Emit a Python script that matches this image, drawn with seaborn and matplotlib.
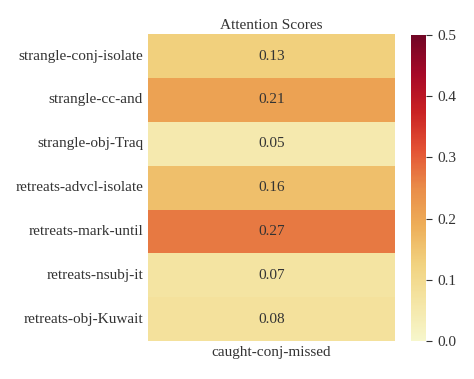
import numpy as np
import pandas as pd
import seaborn as sns
import matplotlib.pyplot as plt
from matplotlib.colors import ListedColormap

# attention scores per dependency
rows = ["strangle-conj-isolate", "strangle-cc-and", "strangle-obj-Traq",
        "retreats-advcl-isolate", "retreats-mark-until", "retreats-nsubj-it",
        "retreats-obj-Kuwait"]
col = ["caught-conj-missed"]
scores = [0.13, 0.21, 0.05, 0.16, 0.27, 0.07, 0.08]

df = pd.DataFrame(scores, index=rows, columns=col)

# slightly muted YlOrRd, like the printed figure
base = plt.get_cmap("YlOrRd")(np.linspace(0, 1, 256))[:, :3]
lum = base @ np.array([0.299, 0.587, 0.114])
muted = lum[:, None] + 0.86 * (base - lum[:, None])
muted = np.clip(muted * 0.97, 0, 1)
cmap = ListedColormap(muted)

sns.set_theme(style="white")
plt.rcParams['font.family'] = ['Liberation Serif', 'DejaVu Serif']

fig = plt.figure(figsize=(4.74, 3.79), dpi=100)
ax = fig.add_axes([0.312, 0.100, 0.521, 0.810])
cax = fig.add_axes([0.867, 0.100, 0.032, 0.808])

sns.heatmap(df, ax=ax, cbar_ax=cax, cmap=cmap, vmin=0, vmax=0.5,
            annot=True, fmt=".2f", annot_kws={"size": 11, "color": "#333333"})

ax.set_title("Attention Scores", fontsize=11, pad=4, color="#333333")
ax.tick_params(length=0, labelsize=11, colors="#333333")
ax.set_yticklabels(rows, rotation=0)
ax.set_xticklabels(col, rotation=0)
cax.tick_params(right=True, length=4, width=0.8, pad=4, labelsize=11, colors="#333333")
cax.set_yticks([0.0, 0.1, 0.2, 0.3, 0.4, 0.5])

plt.savefig("out.png", dpi=100)
